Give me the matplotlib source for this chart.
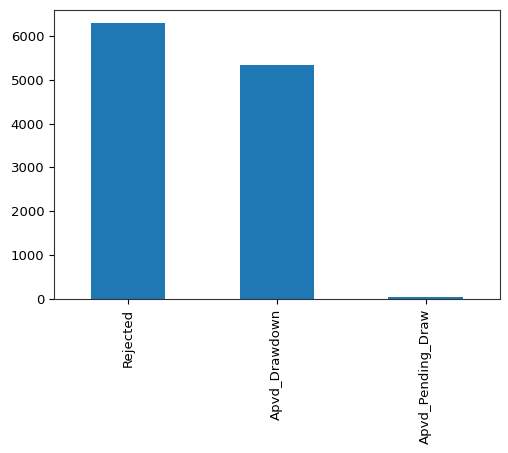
import matplotlib.pyplot as plt

# Value counts per status
categories = ["Rejected", "Apvd_Drawdown", "Apvd_Pending_Draw"]
counts = [6290, 5345, 40]

fig = plt.figure(figsize=(5.08, 4.53), dpi=100)
ax = fig.add_axes([0.106, 0.34, 0.878, 0.639])

ax.bar(range(len(categories)), counts, width=0.5, color="#1f77b4")
ax.set_xlim(-0.5, len(categories) - 0.5)
ax.set_xticks(range(len(categories)))
ax.set_xticklabels(categories, rotation=90, fontsize=9.5)
ax.tick_params(axis="y", labelsize=9.5)
for s in ax.spines.values():
    s.set_color("#333333")

fig.savefig("out.png", dpi=100)
